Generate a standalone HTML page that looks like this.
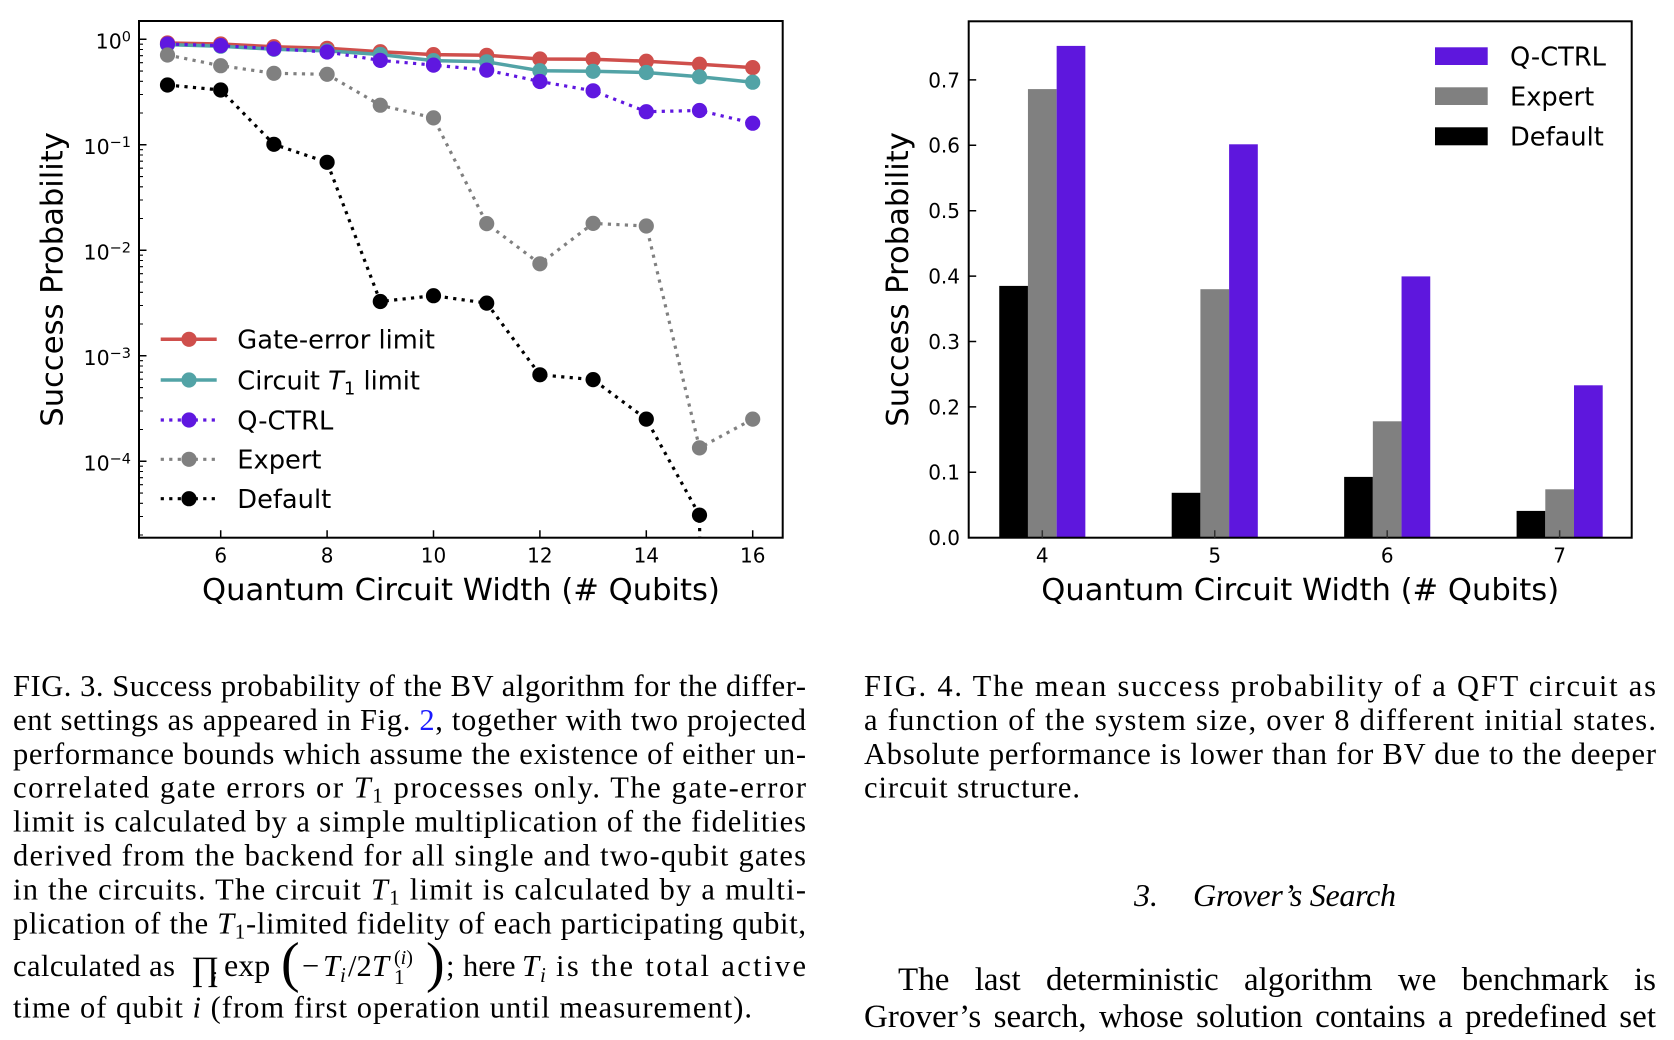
<!DOCTYPE html>
<html>
<head>
<meta charset="utf-8">
<style>
html,body{margin:0;padding:0;background:#fff;}
svg{display:block;}
</style>
</head>
<body>
<svg width="1674" height="1040" viewBox="0 0 1674 1040" xmlns="http://www.w3.org/2000/svg">
<rect width="1674" height="1040" fill="#fff"/>
<defs>
<clipPath id="cl"><rect x="139" y="21" width="643.7" height="516.7"/></clipPath>
</defs>

<!-- ================= LEFT CHART ================= -->
<g font-family="'DejaVu Sans', 'Liberation Sans', sans-serif" fill="#000">
<g clip-path="url(#cl)">
  <polyline fill="none" stroke="#cf4f4c" stroke-width="3.5" stroke-linejoin="round" points="167.5,43.0 220.7,44.0 273.9,46.7 327.1,48.3 380.3,51.7 433.5,54.6 486.7,55.3 539.9,59.0 593.1,59.3 646.3,61.2 699.5,64.2 752.7,67.6"/>
  <g fill="#cf4f4c">
    <circle cx="167.5" cy="43.0" r="7.6"/><circle cx="220.7" cy="44.0" r="7.6"/><circle cx="273.9" cy="46.7" r="7.6"/><circle cx="327.1" cy="48.3" r="7.6"/><circle cx="380.3" cy="51.7" r="7.6"/><circle cx="433.5" cy="54.6" r="7.6"/><circle cx="486.7" cy="55.3" r="7.6"/><circle cx="539.9" cy="59.0" r="7.6"/><circle cx="593.1" cy="59.3" r="7.6"/><circle cx="646.3" cy="61.2" r="7.6"/><circle cx="699.5" cy="64.2" r="7.6"/><circle cx="752.7" cy="67.6" r="7.6"/>
  </g>
  <polyline fill="none" stroke="#52a3a6" stroke-width="3.5" stroke-linejoin="round" points="167.5,44.6 220.7,46.2 273.9,49.3 327.1,50.9 380.3,54.5 433.5,60.6 486.7,61.8 539.9,70.7 593.1,71.3 646.3,72.5 699.5,76.8 752.7,82.2"/>
  <g fill="#52a3a6">
    <circle cx="167.5" cy="44.6" r="7.6"/><circle cx="220.7" cy="46.2" r="7.6"/><circle cx="273.9" cy="49.3" r="7.6"/><circle cx="327.1" cy="50.9" r="7.6"/><circle cx="380.3" cy="54.5" r="7.6"/><circle cx="433.5" cy="60.6" r="7.6"/><circle cx="486.7" cy="61.8" r="7.6"/><circle cx="539.9" cy="70.7" r="7.6"/><circle cx="593.1" cy="71.3" r="7.6"/><circle cx="646.3" cy="72.5" r="7.6"/><circle cx="699.5" cy="76.8" r="7.6"/><circle cx="752.7" cy="82.2" r="7.6"/>
  </g>
  <polyline fill="none" stroke="#5f17e0" stroke-width="3.2" stroke-dasharray="3.2 5.3" points="167.5,44.0 220.7,45.6 273.9,48.8 327.1,52.0 380.3,60.4 433.5,65.1 486.7,70.1 539.9,81.5 593.1,90.8 646.3,111.7 699.5,110.5 752.7,123.2"/>
  <g fill="#5f17e0">
    <circle cx="167.5" cy="44.0" r="7.6"/><circle cx="220.7" cy="45.6" r="7.6"/><circle cx="273.9" cy="48.8" r="7.6"/><circle cx="327.1" cy="52.0" r="7.6"/><circle cx="380.3" cy="60.4" r="7.6"/><circle cx="433.5" cy="65.1" r="7.6"/><circle cx="486.7" cy="70.1" r="7.6"/><circle cx="539.9" cy="81.5" r="7.6"/><circle cx="593.1" cy="90.8" r="7.6"/><circle cx="646.3" cy="111.7" r="7.6"/><circle cx="699.5" cy="110.5" r="7.6"/><circle cx="752.7" cy="123.2" r="7.6"/>
  </g>
  <polyline fill="none" stroke="#808080" stroke-width="3.2" stroke-dasharray="3.2 5.3" points="167.5,55.0 220.7,65.7 273.9,73.3 327.1,74.3 380.3,105.2 433.5,117.9 486.7,223.6 539.9,263.8 593.1,223.4 646.3,226.0 699.5,447.9 752.7,419.1"/>
  <g fill="#808080">
    <circle cx="167.5" cy="55.0" r="7.6"/><circle cx="220.7" cy="65.7" r="7.6"/><circle cx="273.9" cy="73.3" r="7.6"/><circle cx="327.1" cy="74.3" r="7.6"/><circle cx="380.3" cy="105.2" r="7.6"/><circle cx="433.5" cy="117.9" r="7.6"/><circle cx="486.7" cy="223.6" r="7.6"/><circle cx="539.9" cy="263.8" r="7.6"/><circle cx="593.1" cy="223.4" r="7.6"/><circle cx="646.3" cy="226.0" r="7.6"/><circle cx="699.5" cy="447.9" r="7.6"/><circle cx="752.7" cy="419.1" r="7.6"/>
  </g>
  <polyline fill="none" stroke="#000" stroke-width="3.2" stroke-dasharray="3.2 5.3" points="167.5,85.0 220.7,90.0 273.9,144.3 327.1,162.3 380.3,301.5 433.5,295.7 486.7,303.1 539.9,374.8 593.1,379.6 646.3,419.1 699.5,515.1 699.8,545"/>
  <g fill="#000">
    <circle cx="167.5" cy="85.0" r="7.6"/><circle cx="220.7" cy="90.0" r="7.6"/><circle cx="273.9" cy="144.3" r="7.6"/><circle cx="327.1" cy="162.3" r="7.6"/><circle cx="380.3" cy="301.5" r="7.6"/><circle cx="433.5" cy="295.7" r="7.6"/><circle cx="486.7" cy="303.1" r="7.6"/><circle cx="539.9" cy="374.8" r="7.6"/><circle cx="593.1" cy="379.6" r="7.6"/><circle cx="646.3" cy="419.1" r="7.6"/><circle cx="699.5" cy="515.1" r="7.6"/>
  </g>
</g>

<rect x="139" y="21" width="643.7" height="516.7" fill="none" stroke="#000" stroke-width="2"/>
<path stroke="#000" stroke-width="1.5" d="M139 39.3h7.5 M139 144.8h7.5 M139 250.3h7.5 M139 355.8h7.5 M139 461.3h7.5"/>
<path stroke="#000" stroke-width="1.1" d="M139 113h4M139 94.5h4M139 81.3h4M139 71.1h4M139 62.7h4M139 55.7h4M139 49.5h4M139 44.2h4
M139 218.5h4M139 200h4M139 186.8h4M139 176.6h4M139 168.2h4M139 161.2h4M139 155h4M139 149.7h4
M139 324h4M139 305.5h4M139 292.3h4M139 282.1h4M139 273.7h4M139 266.7h4M139 260.5h4M139 255.2h4
M139 429.5h4M139 411h4M139 397.8h4M139 387.6h4M139 379.2h4M139 372.2h4M139 366h4M139 360.7h4
M139 535h4M139 516.5h4M139 503.3h4M139 493.1h4M139 484.7h4M139 477.7h4M139 471.5h4M139 466.2h4"/>
<path stroke="#000" stroke-width="1.5" d="M220.7 537.7v-7.5 M327.1 537.7v-7.5 M433.5 537.7v-7.5 M539.9 537.7v-7.5 M646.3 537.7v-7.5 M752.7 537.7v-7.5"/>

<g font-size="20.5" text-anchor="end">
<text x="131" y="48.3">10<tspan font-size="14.5" dy="-7">0</tspan></text>
<text x="131" y="153.8">10<tspan font-size="14.5" dy="-7">−1</tspan></text>
<text x="131" y="259.3">10<tspan font-size="14.5" dy="-7">−2</tspan></text>
<text x="131" y="364.8">10<tspan font-size="14.5" dy="-7">−3</tspan></text>
<text x="131" y="470.3">10<tspan font-size="14.5" dy="-7">−4</tspan></text>
</g>
<g font-size="20" text-anchor="middle">
<text x="220.7" y="562.7">6</text>
<text x="327.1" y="562.7">8</text>
<text x="433.5" y="562.7">10</text>
<text x="539.9" y="562.7">12</text>
<text x="646.3" y="562.7">14</text>
<text x="752.7" y="562.7">16</text>
</g>
<text x="461" y="600" font-size="30.6" text-anchor="middle">Quantum Circuit Width (# Qubits)</text>
<text transform="translate(62.5,279.4) rotate(-90)" font-size="30.6" text-anchor="middle">Success Probability</text>

<line x1="160.7" y1="339.3" x2="216.7" y2="339.3" stroke="#cf4f4c" stroke-width="3.5"/>
<circle cx="189" cy="339.3" r="7.6" fill="#cf4f4c"/>
<line x1="160.7" y1="380" x2="216.7" y2="380" stroke="#52a3a6" stroke-width="3.5"/>
<circle cx="189" cy="380" r="7.6" fill="#52a3a6"/>
<line x1="160.7" y1="420" x2="216.7" y2="420" stroke="#5f17e0" stroke-width="3.2" stroke-dasharray="3.2 5.3"/>
<circle cx="189" cy="420" r="7.6" fill="#5f17e0"/>
<line x1="160.7" y1="459.3" x2="216.7" y2="459.3" stroke="#808080" stroke-width="3.2" stroke-dasharray="3.2 5.3"/>
<circle cx="189" cy="459.3" r="7.6" fill="#808080"/>
<line x1="160.7" y1="498.7" x2="216.7" y2="498.7" stroke="#000" stroke-width="3.2" stroke-dasharray="3.2 5.3"/>
<circle cx="189" cy="498.7" r="7.6" fill="#000"/>
<g font-size="25.7">
<text x="237.3" y="348.6">Gate-error limit</text>
<text x="237.3" y="389.3">Circuit <tspan font-style="italic">T</tspan><tspan font-size="18" dy="5">1</tspan><tspan dy="-5"> limit</tspan></text>
<text x="237.3" y="429.3">Q-CTRL</text>
<text x="237.3" y="468.6">Expert</text>
<text x="237.3" y="508">Default</text>
</g>
</g>

<!-- ================= RIGHT CHART ================= -->
<g font-family="'DejaVu Sans', 'Liberation Sans', sans-serif" fill="#000">
<g fill="#000">
<rect x="999.25" y="285.9" width="28.7" height="251.8"/>
<rect x="1171.7" y="492.8" width="28.7" height="44.9"/>
<rect x="1344.15" y="476.9" width="28.7" height="60.8"/>
<rect x="1516.6" y="510.9" width="28.7" height="26.8"/>
</g>
<g fill="#808080">
<rect x="1027.95" y="89.1" width="28.7" height="448.6"/>
<rect x="1200.4" y="289.2" width="28.7" height="248.5"/>
<rect x="1372.85" y="421.3" width="28.7" height="116.4"/>
<rect x="1545.3" y="489.3" width="28.7" height="48.4"/>
</g>
<g fill="#5e17dd">
<rect x="1056.65" y="45.9" width="28.7" height="491.8"/>
<rect x="1229.1" y="144.3" width="28.7" height="393.4"/>
<rect x="1401.55" y="276.4" width="28.7" height="261.3"/>
<rect x="1574" y="385.3" width="28.7" height="152.4"/>
</g>
<rect x="968.7" y="21.3" width="663" height="516.4" fill="none" stroke="#000" stroke-width="2"/>
<path stroke="#000" stroke-width="1.5" d="M968.7 472.3h7.5 M968.7 406.9h7.5 M968.7 341.5h7.5 M968.7 276.1h7.5 M968.7 210.7h7.5 M968.7 145.3h7.5 M968.7 79.9h7.5"/>
<path stroke="#333" stroke-width="1.5" d="M1042.3 537.7v-7.5 M1214.75 537.7v-7.5 M1387.2 537.7v-7.5 M1559.65 537.7v-7.5"/>
<g font-size="20" text-anchor="end">
<text x="960" y="545.1">0.0</text>
<text x="960" y="479.7">0.1</text>
<text x="960" y="414.3">0.2</text>
<text x="960" y="348.9">0.3</text>
<text x="960" y="283.5">0.4</text>
<text x="960" y="218.1">0.5</text>
<text x="960" y="152.7">0.6</text>
<text x="960" y="87.3">0.7</text>
</g>
<g font-size="20" text-anchor="middle">
<text x="1042.3" y="562.5">4</text>
<text x="1214.75" y="562.5">5</text>
<text x="1387.2" y="562.5">6</text>
<text x="1559.65" y="562.5">7</text>
</g>
<text x="1300.2" y="600" font-size="30.6" text-anchor="middle">Quantum Circuit Width (# Qubits)</text>
<text transform="translate(908,279.4) rotate(-90)" font-size="30.6" text-anchor="middle">Success Probability</text>
<rect x="1435" y="47.3" width="52.7" height="17.7" fill="#5e17dd"/>
<rect x="1435" y="87.3" width="52.7" height="17.7" fill="#808080"/>
<rect x="1435" y="127.3" width="52.7" height="18" fill="#000"/>
<g font-size="25.7">
<text x="1510" y="65.4">Q-CTRL</text>
<text x="1510" y="105.4">Expert</text>
<text x="1510" y="145.6">Default</text>
</g>
</g>

<!-- ================= CAPTIONS ================= -->
<g font-family="'Liberation Serif', 'DejaVu Serif', serif" font-size="30.5" fill="#000">
<text x="13" y="696" textLength="793" lengthAdjust="spacing">FIG. 3. Success probability of the BV algorithm for the differ-</text>
<text x="13" y="729.9" textLength="793" lengthAdjust="spacing">ent settings as appeared in Fig. <tspan fill="#1a1aff">2</tspan>, together with two projected</text>
<text x="13" y="763.8" textLength="793" lengthAdjust="spacing">performance bounds which assume the existence of either un-</text>
<text x="13" y="797.7" textLength="793" lengthAdjust="spacing">correlated gate errors or <tspan font-style="italic">T</tspan><tspan font-size="21" dy="5">1</tspan><tspan dy="-5"> processes only.  The gate-error</tspan></text>
<text x="13" y="831.6" textLength="793" lengthAdjust="spacing">limit is calculated by a simple multiplication of the fidelities</text>
<text x="13" y="865.5" textLength="793" lengthAdjust="spacing">derived from the backend for all single and two-qubit gates</text>
<text x="13" y="899.4" textLength="793" lengthAdjust="spacing">in the circuits. The circuit <tspan font-style="italic">T</tspan><tspan font-size="21" dy="5">1</tspan><tspan dy="-5"> limit is calculated by a multi-</tspan></text>
<text x="13" y="933.3" textLength="793" lengthAdjust="spacing">plication of the <tspan font-style="italic">T</tspan><tspan font-size="21" dy="5">1</tspan><tspan dy="-5">-limited fidelity of each participating qubit,</tspan></text>
<text x="13" y="976" textLength="162" lengthAdjust="spacing">calculated as</text>
<text x="191" y="980" font-size="34">∏</text>
<text x="211" y="986" font-size="21" font-style="italic">i</text>
<text x="224" y="976" font-size="32">exp</text>
<text x="281" y="981" font-size="56" font-weight="100">(</text>
<text x="302" y="976">−</text>
<text x="323" y="976" font-style="italic">T</text>
<text x="340" y="982" font-size="21" font-style="italic">i</text>
<text x="348" y="976">/2</text>
<text x="372" y="976" font-style="italic">T</text>
<text x="394" y="984" font-size="21">1</text>
<text x="394" y="964" font-size="20">(<tspan font-style="italic">i</tspan>)</text>
<text x="426" y="981" font-size="56" font-weight="100">)</text>
<text x="446" y="976">;</text>
<text x="463" y="976">here</text>
<text x="522" y="976" font-style="italic">T</text>
<text x="540" y="982" font-size="21" font-style="italic">i</text>
<text x="556" y="976" textLength="250" lengthAdjust="spacing">is the total active</text>
<text x="13" y="1017.5" textLength="739" lengthAdjust="spacing">time of qubit <tspan font-style="italic">i</tspan> (from first operation until measurement).</text>

<text x="864" y="696" textLength="792" lengthAdjust="spacing">FIG. 4.  The mean success probability of a QFT circuit as</text>
<text x="864" y="729.9" textLength="792" lengthAdjust="spacing">a function of the system size, over 8 different initial states.</text>
<text x="864" y="763.8" textLength="792" lengthAdjust="spacing">Absolute performance is lower than for BV due to the deeper</text>
<text x="864" y="797.7" textLength="216" lengthAdjust="spacing">circuit structure.</text>
</g>

<g font-family="'Liberation Serif', 'DejaVu Serif', serif" font-size="32" fill="#000">
<text x="1134" y="906" font-style="italic">3.</text>
<text x="1193" y="906" font-style="italic" textLength="203" lengthAdjust="spacing">Grover’s Search</text>
<text x="898" y="990" font-size="33" word-spacing="17" textLength="758" lengthAdjust="spacing">The last deterministic algorithm we benchmark is</text>
<text x="864" y="1027" font-size="33" word-spacing="4" textLength="792" lengthAdjust="spacing">Grover’s search, whose solution contains a predefined set</text>
</g>
</svg>
</body>
</html>
